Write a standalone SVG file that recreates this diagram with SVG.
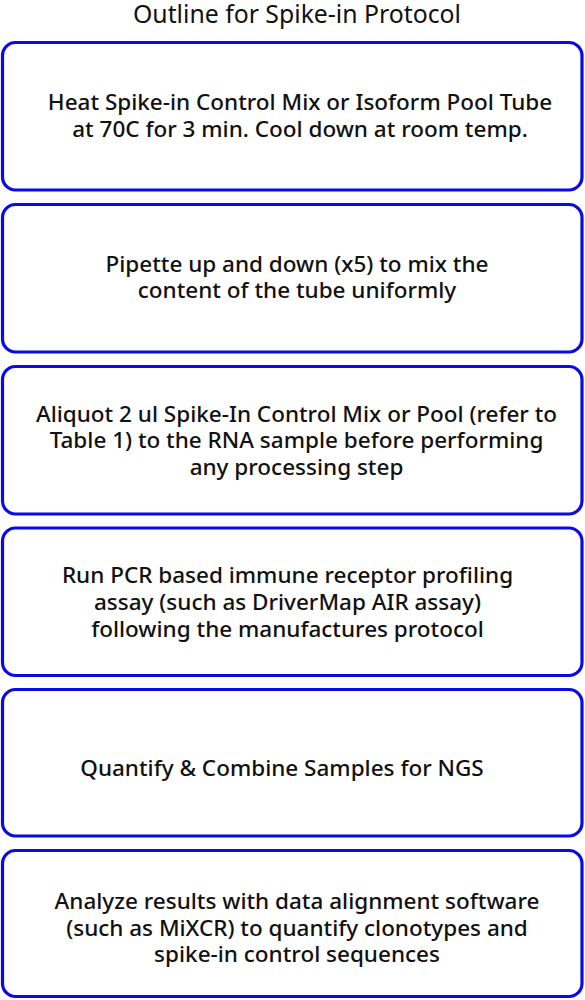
<svg xmlns="http://www.w3.org/2000/svg" width="585" height="1000" viewBox="0 0 585 1000">
<style>
.box{fill:#ffffff;stroke:#0a0ae6;stroke-width:3.2}
.t{font-family:"Noto Sans","Open Sans","DejaVu Sans",sans-serif;font-size:22.5px;font-weight:500;fill:#111111;text-anchor:middle}
.title{font-family:"Noto Sans","Open Sans","DejaVu Sans",sans-serif;font-size:24.8px;fill:#111111;text-anchor:middle}
</style>
<rect width="585" height="1000" fill="#ffffff"/>
<text class="title" x="297" y="22.5">Outline for Spike-in Protocol</text>
<g id="connectors"></g>
<g id="step1">
<rect class="box" x="2.5" y="42.5" width="579.5" height="147.5" rx="13"/>
<text class="t" x="300" y="110">Heat Spike-in Control Mix or Isoform Pool Tube</text>
<text class="t" x="300" y="136.7">at 70C for 3 min. Cool down at room temp.</text>
</g>
<g id="step2">
<rect class="box" x="2.5" y="204.5" width="579.5" height="147.5" rx="13"/>
<text class="t" x="297" y="271.7">Pipette up and down (x5) to mix the</text>
<text class="t" x="297" y="298.3">content of the tube uniformly</text>
</g>
<g id="step3">
<rect class="box" x="2.5" y="366.5" width="579.5" height="147.5" rx="13"/>
<text class="t" x="296.5" y="421.7">Aliquot 2 ul Spike-In Control Mix or Pool (refer to</text>
<text class="t" x="296.5" y="448.3">Table 1) to the RNA sample before performing</text>
<text class="t" x="296.5" y="475">any processing step</text>
</g>
<g id="step4">
<rect class="box" x="2.5" y="528" width="579.5" height="147.5" rx="13"/>
<text class="t" x="287.5" y="583.3">Run PCR based immune receptor profiling</text>
<text class="t" x="287.5" y="610">assay (such as DriverMap AIR assay)</text>
<text class="t" x="287.5" y="636.7">following the manufactures protocol</text>
</g>
<g id="step5">
<rect class="box" x="2.5" y="689.5" width="579.5" height="146.5" rx="13"/>
<text class="t" x="282" y="775.7">Quantify &amp; Combine Samples for NGS</text>
</g>
<g id="step6">
<rect class="box" x="2.5" y="850.5" width="579.5" height="146" rx="13"/>
<text class="t" x="297" y="909.3">Analyze results with data alignment software</text>
<text class="t" x="297" y="935.5">(such as MiXCR) to quantify clonotypes and</text>
<text class="t" x="297" y="961.7">spike-in control sequences</text>
</g>
</svg>
